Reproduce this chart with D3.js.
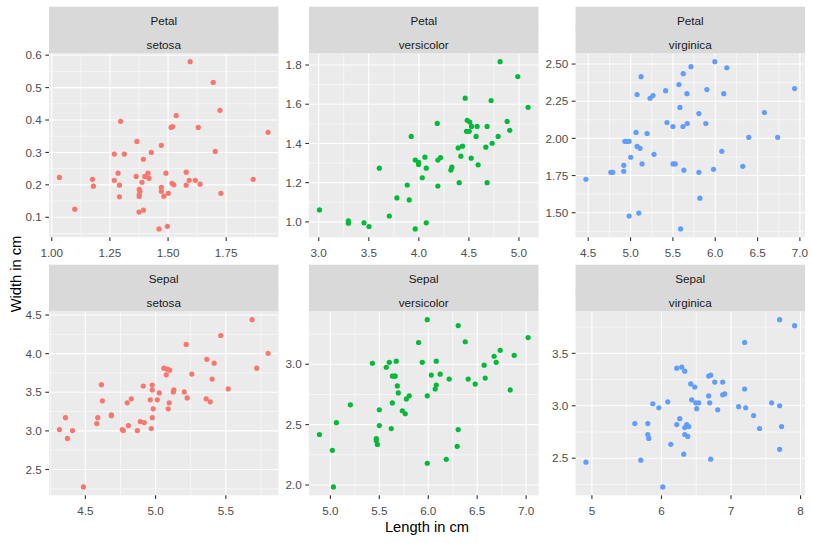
<!DOCTYPE html>
<html>
<head>
<meta charset="utf-8">
<title>Iris jitter facets</title>
<style>
  body { margin: 0; background: #fff; }
  svg { font-family: "Liberation Sans", Arial, sans-serif; }
  .tick-label { fill: #4D4D4D; font-size: 11.7px; }
  .strip-text { fill: #1A1A1A; font-size: 11.7px; text-anchor: middle; }
  .axis-title { fill: #000; font-size: 14.7px; text-anchor: middle; }
</style>
<script src="https://cdn.jsdelivr.net/npm/d3@7"></script>
</head>
<body>
<script>
// facet labels and colours
const partNames = ["Petal", "Sepal"];
const speciesNames = ["setosa", "versicolor", "virginica"];
const speciesColors = ["#F8766D", "#00BA38", "#619CFF"];

// jittered points: [length, width]
const petalSetosa = [
  [1.595,0.580],[1.694,0.516],[1.723,0.430],[1.535,0.414],[1.296,0.396],
  [1.513,0.377],[1.520,0.380],[1.630,0.377],[1.930,0.362],[1.366,0.334],
  [1.471,0.322],[1.703,0.303],[1.269,0.295],[1.312,0.295],[1.428,0.300],
  [1.394,0.279],[1.033,0.223],[1.285,0.236],[1.363,0.226],[1.400,0.226],
  [1.414,0.236],[1.418,0.220],[1.491,0.236],[1.578,0.239],[1.175,0.217],
  [1.269,0.214],[1.179,0.196],[1.291,0.199],[1.388,0.208],[1.517,0.205],
  [1.525,0.200],[1.578,0.199],[1.591,0.214],[1.617,0.214],[1.638,0.202],
  [1.866,0.217],[1.376,0.186],[1.379,0.180],[1.471,0.192],[1.471,0.180],
  [1.376,0.170],[1.376,0.164],[1.291,0.163],[1.482,0.165],[1.501,0.174],
  [1.727,0.174],[1.099,0.125],[1.375,0.116],[1.394,0.122],[1.461,0.064],
  [1.497,0.072]
];
const petalVersicolor = [
  [4.812,1.817],[4.988,1.741],[5.091,1.584],[4.463,1.631],[4.722,1.619],
  [4.184,1.502],[4.483,1.518],[4.509,1.509],[4.526,1.487],[4.882,1.512],
  [4.582,1.487],[4.682,1.487],[4.476,1.462],[4.503,1.462],[4.908,1.467],
  [3.924,1.436],[4.572,1.436],[4.792,1.436],[4.732,1.401],[4.436,1.386],
  [4.393,1.377],[4.669,1.381],[4.420,1.335],[4.523,1.325],[3.964,1.315],
  [3.997,1.303],[3.997,1.293],[4.061,1.330],[4.190,1.315],[4.217,1.328],
  [4.592,1.291],[3.605,1.274],[4.074,1.274],[4.330,1.279],[4.320,1.264],
  [4.034,1.225],[3.884,1.188],[4.403,1.200],[4.682,1.200],[4.190,1.183],
  [3.781,1.122],[3.904,1.112],[3.705,1.030],[3.007,1.061],[3.296,1.005],
  [3.296,0.993],[3.452,0.995],[3.502,0.976],[3.964,0.964],[4.074,0.995]
];
const petalVirginica = [
  [5.995,2.516],[5.713,2.482],[6.137,2.475],[5.124,2.415],[5.622,2.435],
  [5.571,2.362],[5.414,2.321],[5.901,2.328],[5.077,2.295],[5.265,2.288],
  [5.230,2.270],[5.666,2.301],[6.101,2.301],[6.937,2.335],[5.583,2.208],
  [5.807,2.167],[6.580,2.174],[5.430,2.107],[5.670,2.100],[5.501,2.080],
  [5.619,2.080],[5.889,2.100],[5.065,2.040],[5.195,2.033],[6.396,2.007],
  [6.737,2.007],[4.932,1.980],[4.959,1.980],[4.983,1.980],[5.077,1.946],
  [5.112,1.933],[5.277,1.893],[6.078,1.913],[5.002,1.873],[4.920,1.819],
  [5.136,1.828],[5.501,1.828],[5.528,1.828],[4.767,1.772],[4.790,1.772],
  [4.920,1.779],[5.630,1.786],[5.807,1.772],[5.980,1.792],[6.325,1.812],
  [4.473,1.725],[5.819,1.598],[4.983,1.478],[5.097,1.498],[5.591,1.391]
];
const sepalSetosa = [
  [5.687,4.440],[5.464,4.235],[5.218,4.120],[5.801,4.004],[5.365,3.927],
  [5.417,3.876],[5.720,3.812],[5.059,3.812],[5.083,3.799],[5.100,3.786],
  [5.258,3.735],[5.076,3.726],[5.403,3.671],[4.614,3.598],[4.912,3.581],
  [4.976,3.594],[4.976,3.530],[5.130,3.530],[5.126,3.504],[5.026,3.491],
  [5.204,3.504],[5.517,3.543],[4.962,3.402],[5.012,3.402],[4.827,3.415],
  [4.621,3.389],[4.798,3.363],[5.097,3.363],[5.225,3.427],[5.360,3.415],
  [5.389,3.376],[4.983,3.286],[5.090,3.286],[4.685,3.209],[4.685,3.197],
  [4.358,3.171],[4.588,3.171],[4.976,3.171],[4.581,3.094],[4.891,3.120],
  [4.919,3.107],[4.806,3.068],[4.315,3.017],[4.408,3.004],[4.763,3.017],
  [4.770,3.004],[4.870,3.004],[4.969,3.030],[4.372,2.902],[4.486,2.274]
];
const sepalVersicolor = [
  [5.990,3.369],[6.306,3.320],[7.020,3.221],[5.901,3.180],[6.378,3.186],
  [6.735,3.115],[6.673,3.066],[6.878,3.074],[5.429,3.008],[5.602,3.016],
  [5.673,3.025],[5.939,3.016],[6.082,3.025],[6.694,3.016],[5.571,2.975],
  [6.571,2.992],[5.633,2.902],[5.653,2.902],[5.663,2.902],[6.031,2.910],
  [6.122,2.918],[5.684,2.820],[6.214,2.877],[6.408,2.877],[6.582,2.885],
  [6.480,2.836],[6.082,2.828],[6.071,2.795],[6.837,2.787],[5.694,2.762],
  [5.806,2.738],[5.776,2.713],[5.990,2.738],[5.633,2.680],[5.204,2.664],
  [5.500,2.623],[5.735,2.615],[5.765,2.590],[5.061,2.516],[5.500,2.492],
  [5.622,2.467],[6.306,2.459],[4.888,2.418],[5.469,2.385],[5.469,2.369],
  [5.480,2.336],[6.296,2.320],[5.020,2.287],[6.184,2.213],[5.990,2.180],
  [5.031,1.984]
];
const sepalVirginica = [
  [7.699,3.821],[7.914,3.764],[7.196,3.604],[6.220,3.358],[6.292,3.368],
  [6.335,3.330],[6.679,3.283],[6.708,3.292],[6.766,3.226],[6.880,3.226],
  [6.421,3.208],[6.478,3.179],[7.196,3.160],[6.909,3.113],[6.880,3.104],
  [6.679,3.094],[6.091,3.038],[5.876,3.019],[6.435,3.057],[6.493,3.028],
  [6.536,3.028],[6.694,3.028],[7.584,3.028],[5.962,2.981],[6.507,2.972],
  [6.809,2.962],[7.110,2.991],[7.211,2.981],[7.699,3.000],[7.325,2.906],
  [6.263,2.877],[5.617,2.830],[5.804,2.830],[6.220,2.821],[6.364,2.821],
  [6.392,2.802],[6.335,2.792],[7.411,2.783],[7.727,2.802],[5.804,2.726],
  [5.818,2.689],[6.335,2.726],[6.378,2.708],[6.134,2.632],[7.699,2.585],
  [6.321,2.538],[5.703,2.481],[6.708,2.491],[4.914,2.462],[6.019,2.226]
];

// tick labels, one list per axis
const petalSetosaX = ["1.00","1.25","1.50","1.75"];
const petalSetosaY = ["0.1","0.2","0.3","0.4","0.5","0.6"];
const petalVersicolorX = ["3.0","3.5","4.0","4.5","5.0"];
const petalVersicolorY = ["1.0","1.2","1.4","1.6","1.8"];
const petalVirginicaX = ["4.5","5.0","5.5","6.0","6.5","7.0"];
const petalVirginicaY = ["1.50","1.75","2.00","2.25","2.50"];
const sepalSetosaX = ["4.5","5.0","5.5"];
const sepalSetosaY = ["2.5","3.0","3.5","4.0","4.5"];
const sepalVersicolorX = ["5.0","5.5","6.0","6.5","7.0"];
const sepalVersicolorY = ["2.0","2.5","3.0"];
const sepalVirginicaX = ["5","6","7","8"];
const sepalVirginicaY = ["2.5","3.0","3.5"];

const panels = [
  { part: 0, sp: 0, pts: petalSetosa, xt: petalSetosaX, yt: petalSetosaY },
  { part: 0, sp: 1, pts: petalVersicolor, xt: petalVersicolorX, yt: petalVersicolorY },
  { part: 0, sp: 2, pts: petalVirginica, xt: petalVirginicaX, yt: petalVirginicaY },
  { part: 1, sp: 0, pts: sepalSetosa, xt: sepalSetosaX, yt: sepalSetosaY },
  { part: 1, sp: 1, pts: sepalVersicolor, xt: sepalVersicolorX, yt: sepalVersicolorY },
  { part: 1, sp: 2, pts: sepalVirginica, xt: sepalVirginicaX, yt: sepalVirginicaY }
];

const width = 813, height = 543;
const colLeft = [49, 309, 575.5];
const rowTop = [6.7, 264.7];
const panelW = 229.5, panelH = 184, stripH = 23.3;
const tickLen = 3.7;

// ggplot-style 5% expansion
function expand(ext) {
  const pad = (ext[1] - ext[0]) * 0.05;
  return [ext[0] - pad, ext[1] + pad];
}
function minorBreaks(major, dom) {
  const step = major[1] - major[0];
  const all = [major[0] - step, ...major, major[major.length - 1] + step];
  const out = [];
  for (let i = 0; i < all.length - 1; i++) {
    const m = (all[i] + all[i + 1]) / 2;
    if (m >= dom[0] && m <= dom[1]) out.push(m);
  }
  return out;
}

const svg = d3.select("body").append("svg")
  .attr("width", width).attr("height", height);

panels.forEach((p, i) => {
  const col = i % 3, row = Math.floor(i / 3);
  const left = colLeft[col];
  const stripTop = rowTop[row];
  const top = stripTop + 2 * stripH;

  const x = d3.scaleLinear()
    .domain(expand(d3.extent(p.pts, d => d[0])))
    .range([left, left + panelW]);
  const y = d3.scaleLinear()
    .domain(expand(d3.extent(p.pts, d => d[1])))
    .range([top + panelH, top]);

  const xMajor = p.xt.map(Number), yMajor = p.yt.map(Number);
  const g = svg.append("g");

  g.append("rect")
    .attr("x", left).attr("y", top)
    .attr("width", panelW).attr("height", panelH)
    .attr("fill", "#EBEBEB");

  // minor grid
  g.selectAll(".vminor").data(minorBreaks(xMajor, x.domain())).join("line")
    .attr("x1", d => x(d)).attr("x2", d => x(d))
    .attr("y1", top).attr("y2", top + panelH)
    .attr("stroke", "#fff").attr("stroke-width", 0.55);
  g.selectAll(".hminor").data(minorBreaks(yMajor, y.domain())).join("line")
    .attr("y1", d => y(d)).attr("y2", d => y(d))
    .attr("x1", left).attr("x2", left + panelW)
    .attr("stroke", "#fff").attr("stroke-width", 0.55);

  // major grid
  g.selectAll(".vmajor").data(xMajor).join("line")
    .attr("x1", d => x(d)).attr("x2", d => x(d))
    .attr("y1", top).attr("y2", top + panelH)
    .attr("stroke", "#fff").attr("stroke-width", 1.1);
  g.selectAll(".hmajor").data(yMajor).join("line")
    .attr("y1", d => y(d)).attr("y2", d => y(d))
    .attr("x1", left).attr("x2", left + panelW)
    .attr("stroke", "#fff").attr("stroke-width", 1.1);

  // points
  g.selectAll("circle").data(p.pts).join("circle")
    .attr("cx", d => x(d[0])).attr("cy", d => y(d[1]))
    .attr("r", 2.6)
    .attr("fill", speciesColors[p.sp]);

  // two strips
  [partNames[p.part], speciesNames[p.sp]].forEach((lab, k) => {
    const sy = stripTop + k * stripH;
    g.append("rect")
      .attr("x", left).attr("y", sy)
      .attr("width", panelW).attr("height", stripH + (k === 0 ? 0.5 : 0))
      .attr("fill", "#D9D9D9");
    g.append("text").attr("class", "strip-text")
      .attr("x", left + panelW / 2).attr("y", sy + 18.5)
      .text(lab);
  });

  // axes ticks
  g.selectAll(".xtick").data(xMajor).join("line")
    .attr("x1", d => x(d)).attr("x2", d => x(d))
    .attr("y1", top + panelH).attr("y2", top + panelH + tickLen)
    .attr("stroke", "#333").attr("stroke-width", 1.1);
  g.selectAll(".xlab").data(p.xt).join("text")
    .attr("class", "tick-label")
    .attr("text-anchor", "middle")
    .attr("x", d => x(+d)).attr("y", top + panelH + 19.3)
    .text(d => d);
  g.selectAll(".ytick").data(yMajor).join("line")
    .attr("y1", d => y(d)).attr("y2", d => y(d))
    .attr("x1", left - tickLen).attr("x2", left)
    .attr("stroke", "#333").attr("stroke-width", 1.1);
  g.selectAll(".ylab").data(p.yt).join("text")
    .attr("class", "tick-label")
    .attr("text-anchor", "end")
    .attr("x", left - 7.3).attr("y", d => y(+d) + 4.2)
    .text(d => d);
});

svg.append("text").attr("class", "axis-title")
  .attr("x", (colLeft[0] + colLeft[2] + panelW) / 2).attr("y", 531.5)
  .text("Length in cm");
svg.append("text").attr("class", "axis-title")
  .attr("transform", "translate(20.5,274) rotate(-90)")
  .text("Width in cm");
</script>
</body>
</html>
